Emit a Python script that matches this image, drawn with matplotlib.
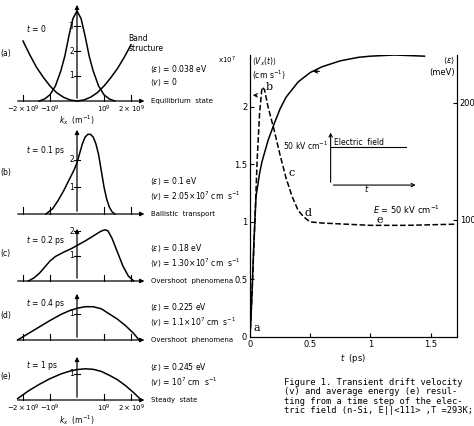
import numpy as np
import matplotlib.pyplot as plt

W, H = 474, 426

# right panel: drift velocity and energy vs time
t_v = [0, 0.02, 0.04, 0.06, 0.08, 0.1, 0.12, 0.15, 0.2, 0.25, 0.3, 0.35, 0.4, 0.45, 0.5,
       0.6, 0.8, 1.0, 1.3, 1.7]
v = [0, 0.45, 1.0, 1.55, 1.95, 2.17, 2.15, 2.0, 1.8, 1.58, 1.38, 1.22, 1.1, 1.04, 1.0,
     0.99, 0.98, 0.97, 0.97, 0.98]
t_e = [0, 0.01, 0.03, 0.05, 0.08, 0.1, 0.15, 0.2, 0.25, 0.3, 0.4, 0.5, 0.6, 0.75, 0.9,
       1.0, 1.2, 1.45]
e_mev = [0, 20, 75, 120, 140, 150, 168, 182, 195, 205, 218, 226, 231, 236, 239, 240, 241, 240]

# left panels: distribution functions vs k (units of 1e9 m^-1)
k_a = [-1.4, -1.2, -1.0, -0.8, -0.6, -0.45, -0.3, -0.15, 0, 0.15, 0.3, 0.45, 0.6, 0.8,
       1.0, 1.2, 1.4]
f_a = [0, 0.08, 0.25, 0.6, 1.2, 1.8, 2.6, 3.3, 3.6, 3.3, 2.6, 1.8, 1.2, 0.6, 0.25, 0.08, 0]
k_band = [-2.0, -1.75, -1.5, -1.25, -1.0, -0.75, -0.5, -0.25, 0, 0.25, 0.5, 0.75, 1.0,
          1.25, 1.5, 1.75, 2.0]
band = [2.4, 1.85, 1.35, 0.95, 0.6, 0.33, 0.15, 0.04, 0, 0.04, 0.15, 0.33, 0.6, 0.93,
        1.3, 1.75, 2.25]
k_b = [-1.15, -0.9, -0.7, -0.5, -0.3, -0.1, 0, 0.1, 0.2, 0.3, 0.4, 0.5, 0.6, 0.7, 0.8,
       0.9, 1.0, 1.1, 1.2, 1.3, 1.4]
f_b = [0, 0.2, 0.5, 0.85, 1.25, 1.65, 1.9, 2.25, 2.6, 2.85, 2.95, 2.95, 2.85, 2.6, 2.2,
       1.6, 1.0, 0.55, 0.25, 0.08, 0]
k_c = [-1.8, -1.6, -1.4, -1.2, -1.0, -0.8, -0.5, -0.2, 0, 0.3, 0.6, 0.9, 1.05, 1.15, 1.3,
       1.5, 1.7, 1.9, 2.1]
f_c = [0, 0.12, 0.3, 0.55, 0.8, 0.98, 1.15, 1.3, 1.42, 1.6, 1.8, 2.0, 2.05, 2.0, 1.7,
       1.15, 0.6, 0.2, 0]
k_d = [-2.2, -1.8, -1.4, -1.0, -0.6, -0.3, 0, 0.3, 0.6, 0.9, 1.2, 1.5, 1.8, 2.1, 2.3]
f_d = [0, 0.25, 0.5, 0.75, 0.98, 1.12, 1.22, 1.28, 1.28, 1.2, 1.0, 0.8, 0.55, 0.25, 0]
k_e = [-2.2, -1.8, -1.4, -1.0, -0.6, -0.3, 0, 0.3, 0.6, 0.9, 1.2, 1.5, 1.8, 2.1, 2.3]
f_e = [0.05, 0.35, 0.6, 0.82, 1.0, 1.1, 1.17, 1.2, 1.18, 1.1, 0.95, 0.78, 0.55, 0.28, 0.08]

fig = plt.figure(figsize=(W / 100, H / 100), dpi=100)
plt.rcParams['font.size'] = 6


def box(x0, y_top, x1, y_bot):
    return [x0 / W, 1 - y_bot / H, (x1 - x0) / W, (y_bot - y_top) / H]


# ---- right panel ----
ax = fig.add_axes(box(250, 55, 457, 337))
ax.plot(t_v, v, 'k--', lw=1.1)
ax.set_xlim(0, 1.72)
ax.set_ylim(0, 2.45)
ax.spines['top'].set_visible(False)
ax.set_xticks([0, 0.5, 1, 1.5], ['0', '0.5', '1', '1.5'])
ax.set_yticks([0, 0.5, 1, 1.5, 2], ['0', '0.5', '1', '1.5', '2'])
ax.tick_params(direction='in', length=3, labelsize=6, pad=2)
ax.set_xlabel('$t$  (ps)', fontsize=6, labelpad=2)
ax.text(-0.07, 1.0, r'x10$^7$', transform=ax.transAxes, fontsize=5, ha='right', va='top')
ax.text(0.01, 1.0, r'$\langle V_x(t)\rangle$' + '\n(cm s$^{-1}$)', transform=ax.transAxes,
        fontsize=5.5, va='top')
ax2 = ax.twinx()
ax2.plot(t_e, e_mev, 'k-', lw=1.1)
ax2.set_ylim(0, 241)
ax2.spines['top'].set_visible(False)
ax2.set_yticks([100, 200], ['100', '200'])
ax2.tick_params(direction='in', length=3, labelsize=6, pad=2)
ax2.text(0.99, 1.0, r'$\langle\varepsilon\rangle$' + '\n(meV)', transform=ax2.transAxes,
         fontsize=6, va='top', ha='right')
for lab, x, y in [('a', 0.03, 0.05), ('b', 0.13, 2.15), ('c', 0.32, 1.4),
                  ('d', 0.45, 1.05), ('e', 1.05, 0.99)]:
    ax.text(x, y, lab, fontsize=8, family='serif')
ax.text(1.3, 1.07, r'$E$ = 50 kV cm$^{-1}$', fontsize=6, ha='center')
ax.annotate('', xy=(0.0, 2.1), xytext=(0.08, 2.1),
            arrowprops=dict(arrowstyle='->', lw=0.8))
ax2.annotate('', xy=(0.5, 227), xytext=(0.6, 227),
             arrowprops=dict(arrowstyle='->', lw=0.8))
# inset
ax.annotate('', xy=(0.67, 1.8), xytext=(0.67, 1.32), arrowprops=dict(arrowstyle='->', lw=0.8))
ax.annotate('', xy=(1.4, 1.32), xytext=(0.67, 1.32), arrowprops=dict(arrowstyle='->', lw=0.8))
ax.plot([0.67, 1.3], [1.65, 1.65], 'k-', lw=0.8)
ax.text(0.65, 1.66, r'50 kV cm$^{-1}$', fontsize=5.5, ha='right', va='center')
ax.text(0.7, 1.67, 'Electric  field', fontsize=5.5)
ax.text(0.95, 1.26, '$t$', fontsize=6)

fig.text(284 / W, 1 - 378 / H,
         "Figure 1. Transient drift velocity\n(v) and average energy (e) resul-\n"
         "ting from a time step of the elec-\ntric field (n-Si, E||<111> ,T =293K;",
         family='monospace', fontsize=6.3, va='top', linespacing=1.05)

# ---- left panels ----
panels = [
    (k_a, f_a, 2, 101, 25, 't = 0', '(a)', r'$\langle\varepsilon\rangle$ = 0.038 eV',
     r'$\langle v\rangle$ = 0', 'Equilibrium  state', 3),
    (k_b, f_b, 127, 214, 27, 't = 0.1 ps', '(b)', r'$\langle\varepsilon\rangle$ = 0.1 eV',
     r'$\langle v\rangle$ = 2.05$\times$10$^7$ cm  s$^{-1}$', 'Ballistic  transport', 2),
    (k_c, f_c, 226, 281, 25, 't = 0.2 ps', '(c)', r'$\langle\varepsilon\rangle$ = 0.18 eV',
     r'$\langle v\rangle$ = 1.30$\times$10$^7$ cm  s$^{-1}$', 'Overshoot  phenomena', 2),
    (k_d, f_d, 291, 340, 26, 't = 0.4 ps', '(d)', r'$\langle\varepsilon\rangle$ = 0.225 eV',
     r'$\langle v\rangle$ = 1.1$\times$10$^7$ cm  s$^{-1}$', 'Overshoot  phenomena', 1),
    (k_e, f_e, 354, 400, 26, 't = 1 ps', '(e)', r'$\langle\varepsilon\rangle$ = 0.245 eV',
     r'$\langle v\rangle$ = 10$^7$ cm  s$^{-1}$', 'Steady  state', 1),
]
x0px, x1px, zero_px, kpx = 15, 160, 77, 27
for i, (kk, ff, ytop, ybase, upx, tl, pl, el, vl, state, ytopval) in enumerate(panels):
    a = fig.add_axes(box(x0px, ytop, x1px, ybase + 2))
    a.set_xlim((x0px - zero_px) / kpx, (x1px - zero_px) / kpx)
    a.set_ylim(-2 / upx, (ybase - ytop) / upx)
    a.axis('off')
    a.plot(kk, ff, 'k-', lw=1.1)
    if i == 0:
        a.plot(k_band, band, 'k-', lw=1.1)
        a.text(1.9, 2.3, 'Band\nstructure', fontsize=5.5, va='center')
    a.annotate('', xy=(2.6, 0), xytext=(-2.3, 0), arrowprops=dict(arrowstyle='-|>', lw=0.9,
               mutation_scale=6, color='k'), annotation_clip=False)
    a.annotate('', xy=(0, (ybase - ytop) / upx), xytext=(0, 0),
               arrowprops=dict(arrowstyle='-|>', lw=0.9, mutation_scale=6, color='k'),
               annotation_clip=False)
    for kt in [-2, -1, 1, 2]:
        a.plot([kt, kt], [0, 0.25], 'k-', lw=0.8)
    for yt in range(1, ytopval + 1):
        a.plot([-0.1, 0.1], [yt, yt], 'k-', lw=0.8)
        a.text(-0.12, yt, str(yt), fontsize=5.5, ha='right', va='center')
    a.text(-1.9, (ybase - ytop) / upx * 0.7, '$t$' + tl[1:], fontsize=5.5)
    a.text(-2.85, (ybase - ytop) / upx * 0.45, pl, fontsize=5.5, clip_on=False)
    a.text(2.75, 0, state, fontsize=5, va='center', clip_on=False)
    fig.text(150 / W, 1 - (ybase - 25) / H, el + '\n' + vl, fontsize=5.5, va='center')
    if i in (0, 4):
        for kt, lab in [(-2, r'$-2\times10^9$'), (-1, r'$-10^9$'), (1, r'$10^9$'),
                        (2, r'$2\times10^9$')]:
            a.text(kt, -0.12, lab, fontsize=5, ha='center', va='top')
        a.text(0, -0.5, r'$k_x$  (m$^{-1}$)', fontsize=5.5, ha='center', va='top')

fig.savefig('out.png', dpi=100)
